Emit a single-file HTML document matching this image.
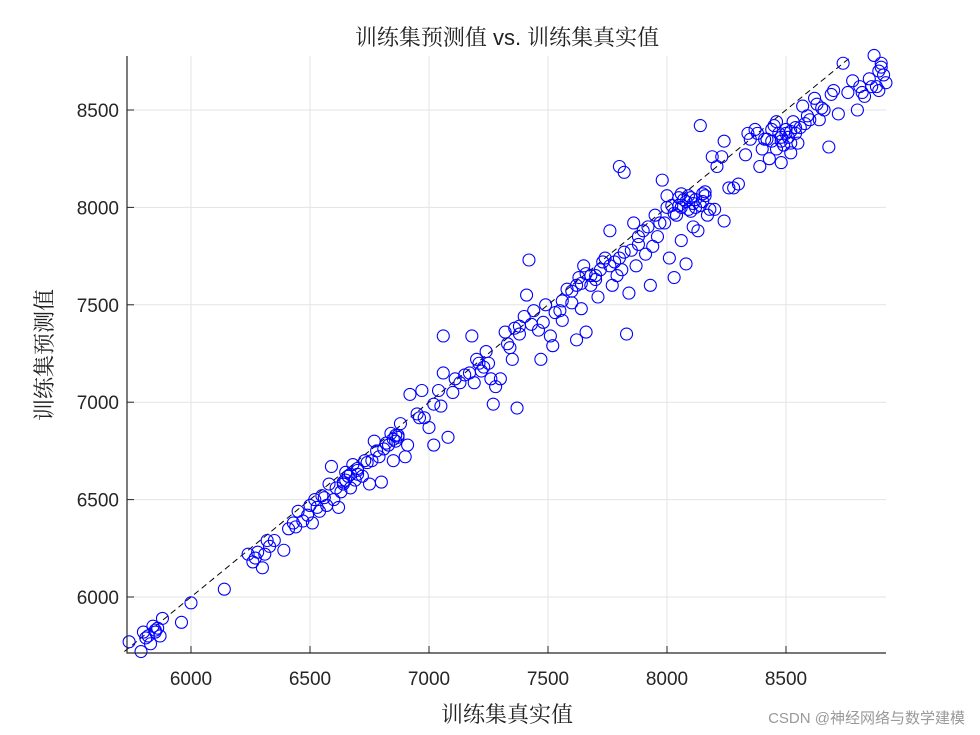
<!DOCTYPE html>
<html><head><meta charset="utf-8"><style>
body{margin:0;background:#fff;}
svg{display:block;}
</style></head><body>
<svg id="chart" width="980" height="735" xmlns="http://www.w3.org/2000/svg">
<g id="grid"></g>
<line x1="150" y1="637" x2="850" y2="58" id="diag" stroke="#000" stroke-width="1" stroke-dasharray="6,4"/>
<g id="pts"></g>
<g id="axes"></g>
<text x="507" y="45" text-anchor="middle" font-size="22" fill="#222" font-family="Liberation Sans, Noto Serif CJK SC, serif">训练集预测值 vs. 训练集真实值</text>
<text x="507" y="722" text-anchor="middle" font-size="22" fill="#222" font-family="Noto Serif CJK SC, serif">训练集真实值</text>
<text transform="translate(52,355) rotate(-90)" text-anchor="middle" font-size="22" fill="#222" font-family="Noto Serif CJK SC, serif">训练集预测值</text>
<text x="965" y="723" text-anchor="end" font-size="15" fill="#999" font-family="Liberation Sans, Noto Sans CJK SC, sans-serif">CSDN @神经网络与数学建模</text>
</svg>
<script>
const xTicks=[6000,6500,7000,7500,8000,8500];
const yTicks=[6000,6500,7000,7500,8000,8500];
const trueVals=[5740,5790,5800,5830,5840,5850,5870,5880,5960,6000,6140,6240,6260,6280,6300,6310,6320,6350,6390,6410,6430,6450,6470,6500,6510,6520,6540,6560,6570,6580,6590,6600,6620,6630,6640,6650,6660,6670,6680,6690,6700,6720,6740,6750,6760,6770,6790,6800,6810,6830,6840,6850,6860,6870,6880,6900,6910,6920,6950,6970,6980,7000,7020,7040,7050,7060,7060,7080,7100,7130,7150,7180,7190,7200,7220,7240,7250,7260,7270,7280,7300,7320,7340,7350,7360,7370,7380,7400,7410,7420,7440,7460,7470,7480,7510,7520,7530,7550,7560,7580,7600,7620,7630,7640,7650,7660,7680,7700,7710,7720,7740,7760,7770,7780,7790,7800,7810,7820,7830,7840,7850,7860,7870,7880,7900,7910,7930,7940,7950,7960,7980,7990,8000,8010,8020,8030,8040,8050,8060,8070,8080,8090,8100,8110,8120,8130,8140,8150,8160,8170,8190,8200,8230,8240,8240,8280,8300,8330,8350,8370,8390,8400,8420,8430,8440,8450,8460,8470,8480,8490,8500,8510,8520,8530,8540,8550,8570,8580,8600,8620,8640,8660,8680,8700,8720,8740,8760,8780,8800,8810,8830,8850,8870,8880,8890,8900,8910,8920,5820,5860,6660,6700,6820,6860,7620,7680,8060,8110,8150,8480,8520,
5810,5850,6270,6330,6440,6490,6530,6550,6610,6640,6650,6670,6700,6730,6780,6850,6870,6960,7020,7110,7170,7210,7230,7330,7380,7430,7490,7560,7600,7640,7660,7700,7730,7760,7800,7820,7880,7920,7970,8000,8030,8050,8060,8080,8090,8100,8120,8140,8160,8180,8210,8260,8340,8380,8410,8440,8460,8480,8500,8520,8540,8560,8590,8630,8650,8690,8820,8860,8890,8900];
const predVals=[5770,5720,5820,5760,5850,5830,5800,5890,5870,5970,6040,6220,6180,6230,6150,6220,6290,6290,6240,6350,6380,6440,6390,6470,6380,6500,6440,6510,6470,6580,6670,6500,6460,6540,6580,6600,6620,6560,6680,6600,6630,6620,6690,6580,6700,6800,6720,6590,6760,6780,6840,6700,6800,6820,6890,6720,6780,7040,6940,7060,6920,6870,6780,7060,6980,7340,7150,6820,7050,7100,7140,7340,7100,7220,7160,7260,7200,7120,6990,7080,7120,7360,7280,7220,7380,6970,7390,7440,7550,7730,7470,7370,7220,7410,7340,7290,7460,7470,7420,7580,7510,7320,7640,7480,7700,7360,7600,7630,7540,7680,7740,7880,7600,7720,7650,8210,7680,8180,7350,7560,7780,7920,7700,7850,7880,7760,7600,7800,7960,7850,8140,7920,8060,7740,8010,7640,7960,8050,7830,8040,7710,7990,8050,7900,8000,7880,8420,8030,8060,7960,8260,7990,8260,7930,8340,8100,8120,8270,8350,8400,8210,8300,8350,8250,8340,8420,8300,8380,8230,8320,8400,8360,8280,8440,8380,8330,8520,8430,8450,8560,8450,8500,8310,8600,8480,8740,8590,8650,8500,8620,8570,8660,8780,8620,8700,8740,8680,8640,5800,5840,6620,6650,6790,6830,7600,7650,8000,8020,8070,8360,8390,
5790,5820,6200,6260,6360,6420,6460,6520,6560,6590,6640,6630,6660,6700,6750,6810,6830,6920,6990,7120,7150,7200,7180,7300,7350,7400,7500,7520,7570,7610,7660,7650,7720,7700,7740,7770,7810,7900,7920,8000,7970,8010,8070,8030,8060,7980,8040,8010,8080,7990,8210,8100,8380,8380,8350,8400,8440,8340,8380,8330,8410,8410,8470,8530,8510,8580,8590,8620,8600,8720];
const L=127,R=886,T=56,B=653;
const sx=v=>191+(v-6000)*0.238;
const sy=v=>597-(v-6000)*0.1948;
const NS='http://www.w3.org/2000/svg';
function mk(t,a,p){const e=document.createElementNS(NS,t);for(const k in a)e.setAttribute(k,a[k]);p.appendChild(e);return e;}
const grid=document.getElementById('grid'),axes=document.getElementById('axes'),pts=document.getElementById('pts');
xTicks.forEach(v=>{
 const gl=mk('line',{x1:sx(v),x2:sx(v),y1:T,y2:B,stroke:'#e3e3e3','stroke-width':1},grid);
 
 
 const tk=mk('line',{x1:sx(v),x2:sx(v),y1:B,y2:B-7,stroke:'#262626'},axes);
 
 
 const t=mk('text',{x:sx(v),y:B+32,'text-anchor':'middle','font-size':19,fill:'#262626','font-family':'Liberation Sans, sans-serif'},axes);
 t.textContent=v;
 
 
});
yTicks.forEach(v=>{
 const gl=mk('line',{x1:L,x2:R,y1:sy(v),y2:sy(v),stroke:'#e3e3e3','stroke-width':1},grid);
 
 
 const tk=mk('line',{x1:L,x2:L+7,y1:sy(v),y2:sy(v),stroke:'#262626'},axes);
 
 
 const t=mk('text',{x:L-8,y:sy(v)+7,'text-anchor':'end','font-size':19,fill:'#262626','font-family':'Liberation Sans, sans-serif'},axes);
 t.textContent=v;
 
 
});
const ax=mk('path',{d:`M${L},${T} V${B} H${R}`,fill:'none',stroke:'#262626','stroke-width':1.2},axes);


trueVals.forEach((v,i)=>{
 const c=mk('circle',{cx:sx(v),cy:sy(predVals[i]),r:6,fill:'none',stroke:'#0000ff','stroke-width':1.1},pts);
 
 
});
const d=document.getElementById('diag');
d.setAttribute('x1',sx(5720));d.setAttribute('y1',sy(5720));
d.setAttribute('x2',sx(8770));d.setAttribute('y2',sy(8770));
</script>
</body></html>
